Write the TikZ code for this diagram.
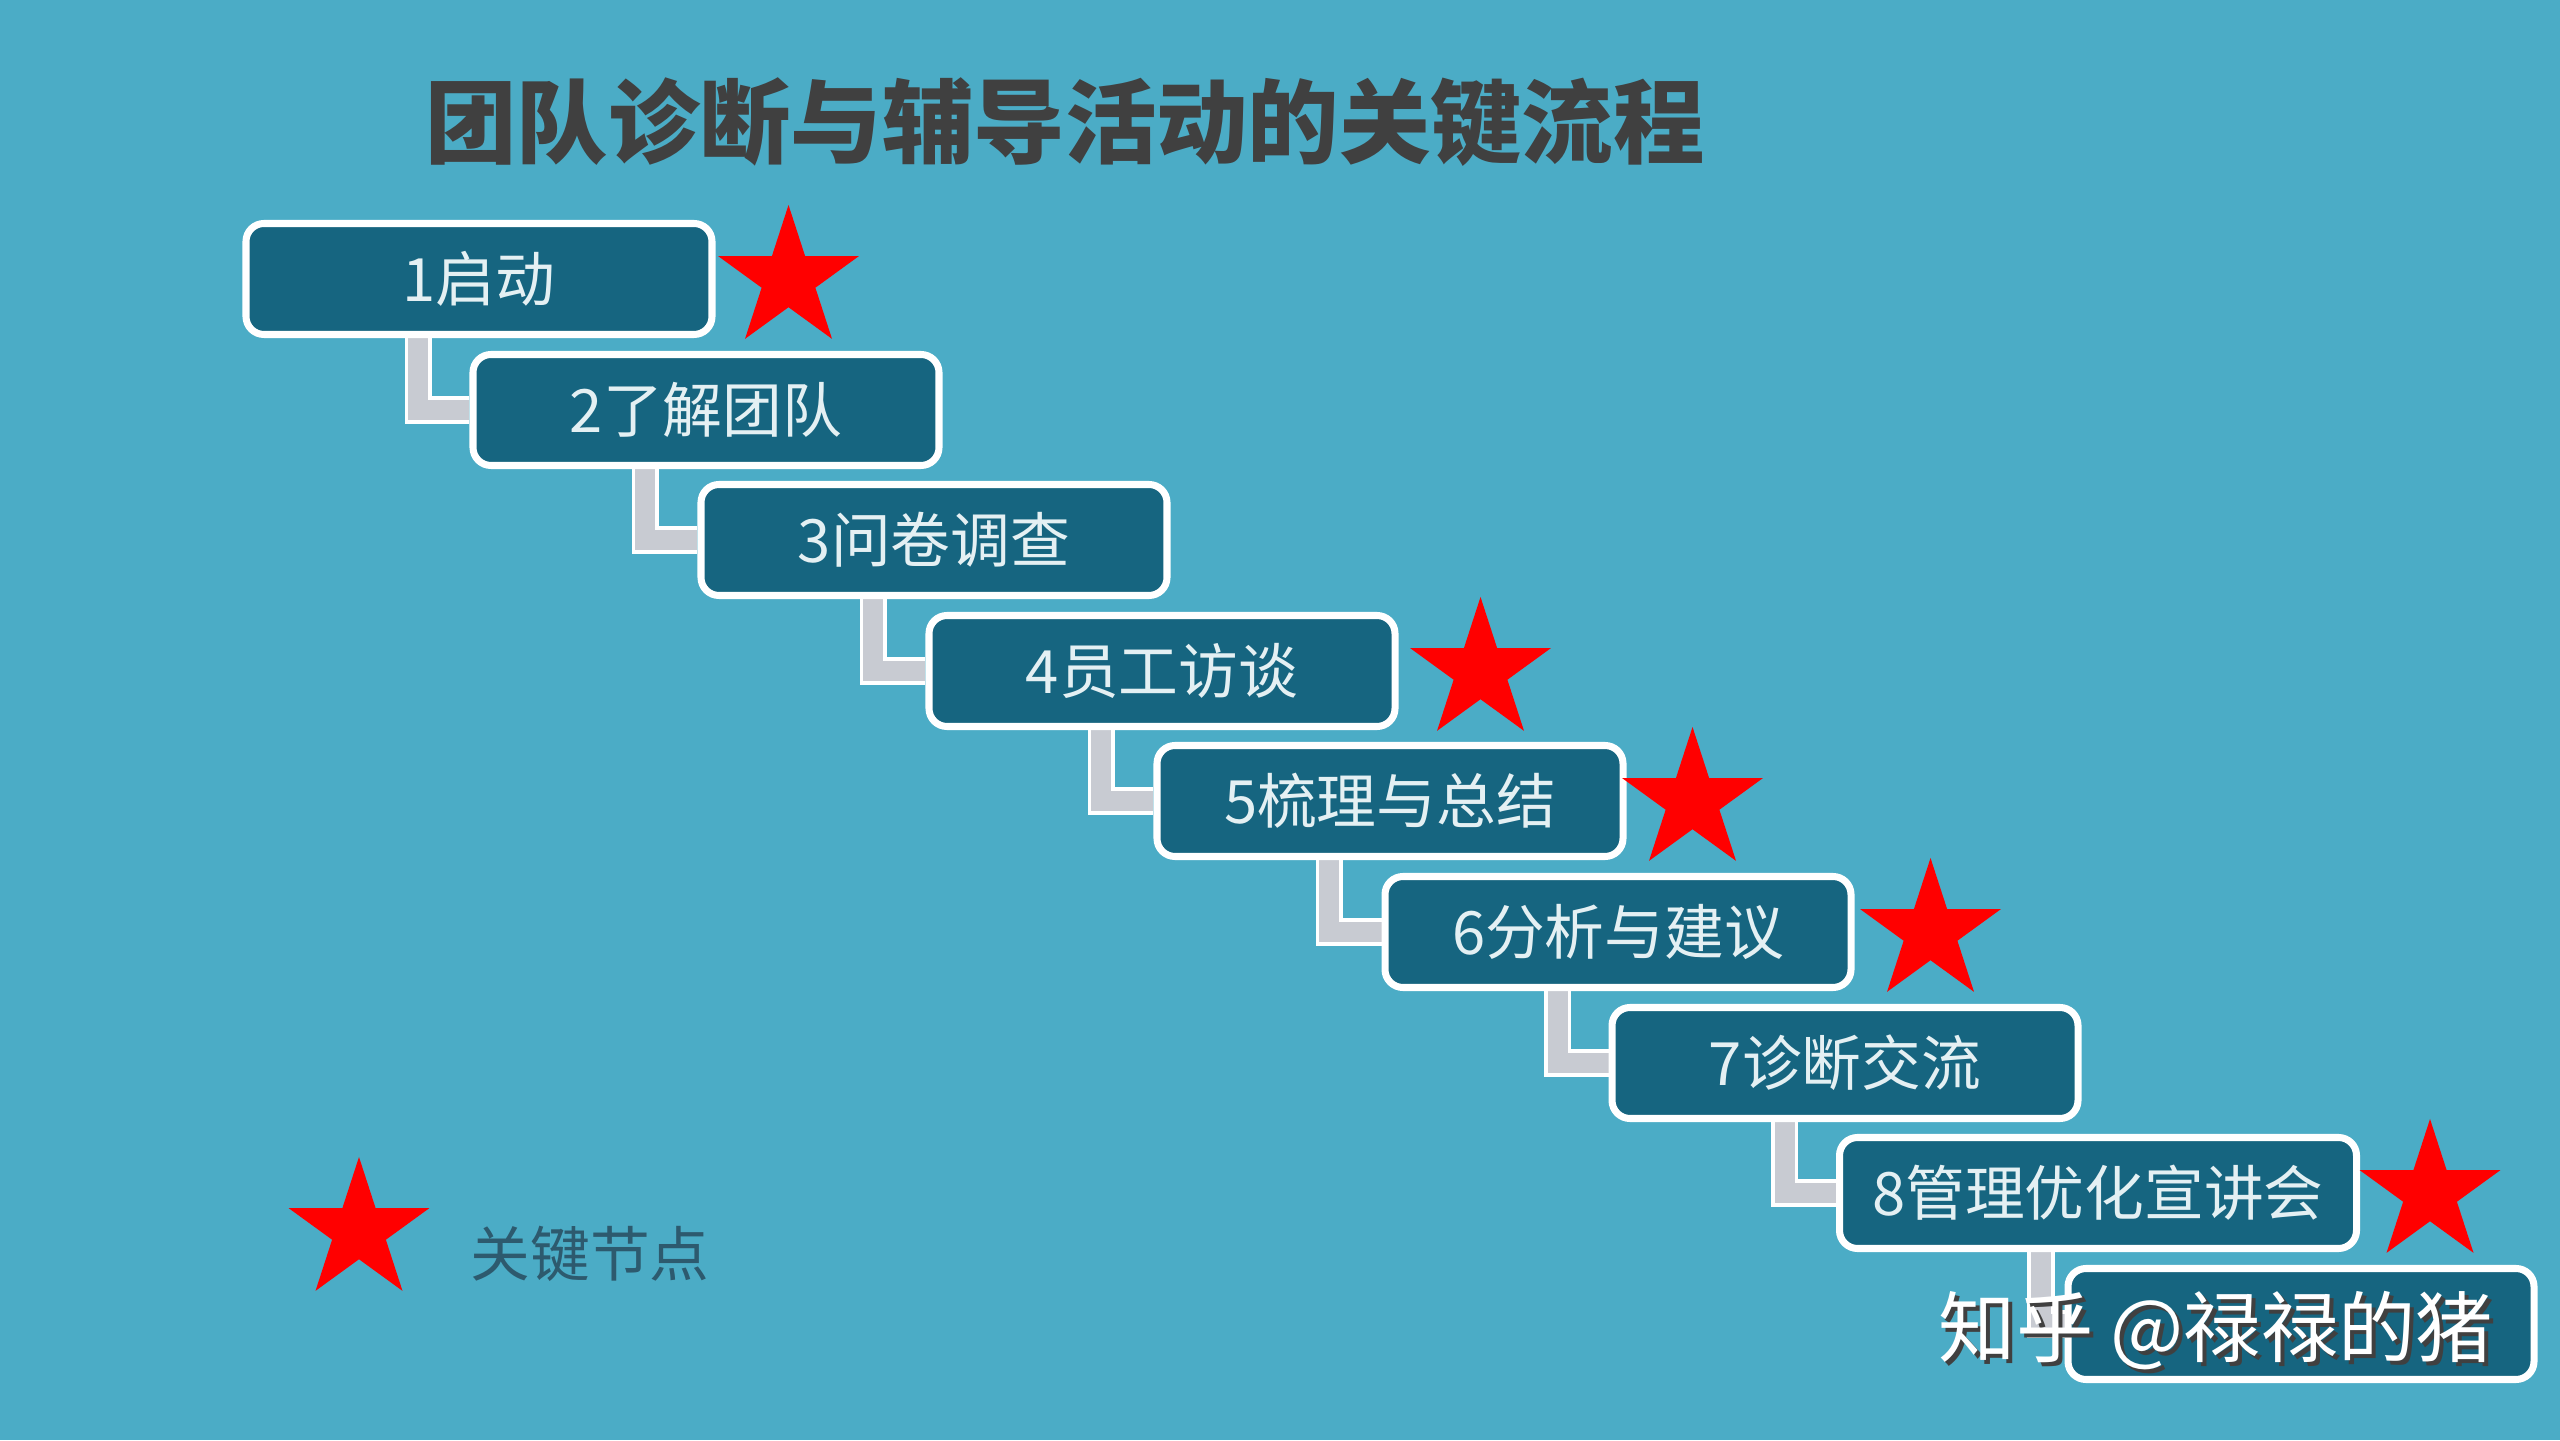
\documentclass[tikz,border=0pt]{standalone}
\usepackage{fontspec}
\setmainfont{Noto Sans CJK SC}
\usetikzlibrary{shapes.geometric,backgrounds}
\definecolor{bgblue}{RGB}{75,172,198}
\definecolor{boxteal}{RGB}{22,101,128}
\definecolor{boxtext}{RGB}{228,240,243}
\definecolor{barGrey}{RGB}{200,203,210}
\definecolor{titleGrey}{RGB}{64,64,64}
\definecolor{legendText}{RGB}{45,90,110}
\begin{document}
\begin{tikzpicture}
	\tikzstyle{box} = [rectangle,rounded corners=0.18cm,draw=white,line width=2pt,fill=boxteal,minimum width=4.66cm,minimum height=1.11cm,text=boxtext,font=\fontsize{17pt}{20pt}\selectfont]
	\tikzstyle{keystar} = [star,star points=5,star point ratio=2.618,fill=red,inner sep=0pt,minimum size=1.48cm]
	\tikzstyle{conn} = [draw=white,line width=1pt,double=barGrey,double distance=0.2cm]
	\useasboundingbox (0,0) rectangle (25.6,14.4);
	\node[font=\fontsize{26pt}{30pt}\selectfont\bfseries,text=titleGrey](title)at(10.65,13.18){团队诊断与辅导活动的关键流程};
	\node[box](b1)at(4.79,11.61){1启动};
	\node[box](b2)at(7.06,10.30){2了解团队};
	\node[box](b3)at(9.34,9.00){3问卷调查};
	\node[box](b4)at(11.62,7.69){4员工访谈};
	\node[box](b5)at(13.90,6.39){5梳理与总结};
	\node[box](b6)at(16.18,5.08){6分析与建议};
	\node[box](b7)at(18.45,3.77){7诊断交流};
	\node[box,minimum width=5.17cm](b8)at(20.98,2.47){8管理优化宣讲会};
	\node[box](b9)at(23.01,1.16){};
	% key nodes
	\node[keystar](s1)at([xshift=0.73cm]b1.east){};
	\node[keystar](s4)at([xshift=0.82cm]b4.east){};
	\node[keystar](s5)at([xshift=0.66cm]b5.east){};
	\node[keystar](s6)at([xshift=0.76cm]b6.east){};
	\node[keystar](s8)at([xshift=0.70cm]b8.east){};
	\node[keystar](legstar)at(3.59,2.09){};
	\node[text=legendText,font=\fontsize{17pt}{20pt}\selectfont](legend)at(5.90,1.86){关键节点};
	\node[text=black!75,font=\fontsize{22pt}{26pt}\selectfont](wmshadow)at(22.20,1.05){知乎 @禄禄的猪};
	\node[text=white,font=\fontsize{22pt}{26pt}\selectfont](wm)at(22.16,1.09){知乎 @禄禄的猪};
	\begin{scope}[on background layer]
	\fill[bgblue] (0,0) rectangle (25.6,14.4);
	\path[conn] ([xshift=1.76cm]b1.south west) |- (b2.west)
	([xshift=1.76cm]b2.south west) |- (b3.west)
	([xshift=1.76cm]b3.south west) |- (b4.west)
	([xshift=1.76cm]b4.south west) |- (b5.west)
	([xshift=1.76cm]b5.south west) |- (b6.west)
	([xshift=1.76cm]b6.south west) |- (b7.west)
	([xshift=1.76cm]b7.south west) |- (b8.west)
	([xshift=2.05cm]b8.south west) |- (b9.west);
	\end{scope}
\end{tikzpicture}
\end{document}
